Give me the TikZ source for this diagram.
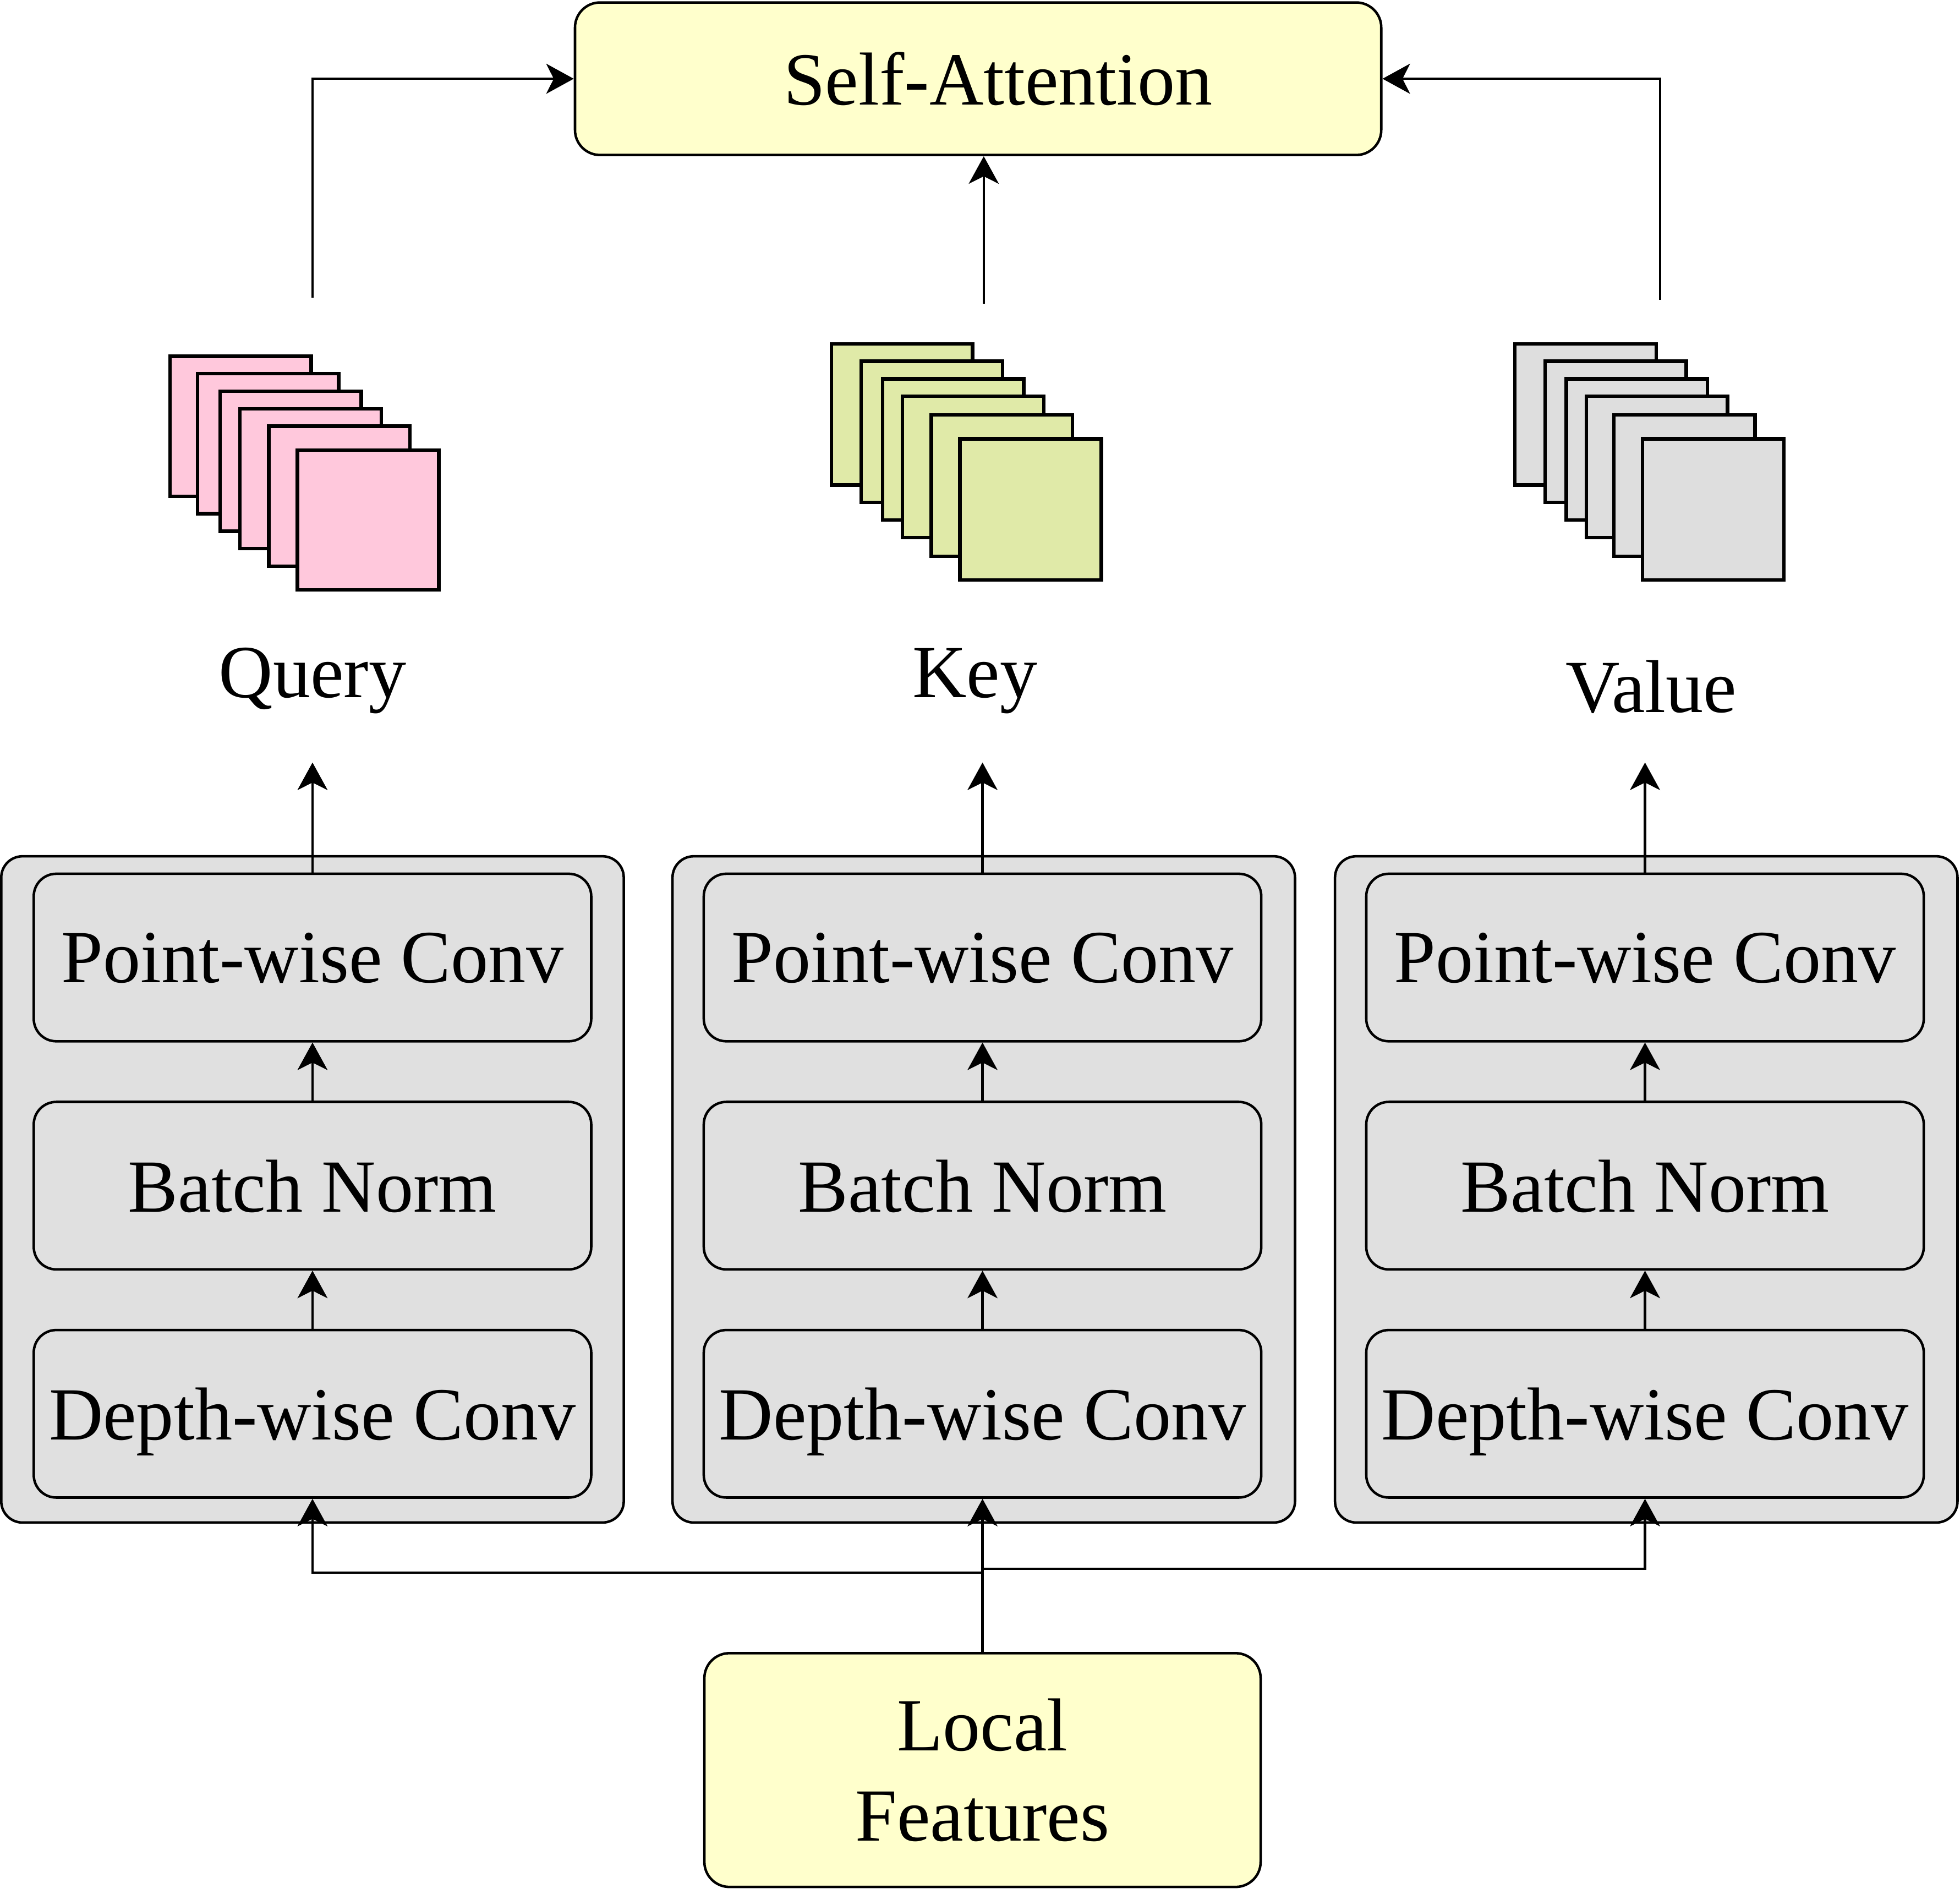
\documentclass[tikz,border=0pt]{standalone}
\usepackage{fontspec}
\setmainfont{Liberation Serif}
\usetikzlibrary{arrows.meta}
\definecolor{yel}{HTML}{FFFFCC}
\definecolor{boxgray}{HTML}{E0E0E0}
\definecolor{qpink}{HTML}{FFC8DC}
\definecolor{kgreen}{HTML}{E0EAA8}
\definecolor{vgray}{HTML}{DEDEDE}
\tikzset{
  txt/.style={font=\fontsize{60}{72}\selectfont},
  yelbox/.style={txt, draw, line width=2pt, fill=yel, rounded corners=20pt, inner sep=0pt, align=center},
  outerbox/.style={draw, line width=2pt, fill=boxgray, rounded corners=17pt, minimum width=498pt, minimum height=533pt, inner sep=0pt},
  innerbox/.style={txt, draw, line width=2pt, fill=boxgray, rounded corners=18pt, minimum width=446pt, minimum height=134pt, inner sep=0pt, text depth=0pt},
  conn/.style={line width=2pt},
  arr/.style={line width=2pt, -{Stealth[length=22pt,width=24pt,inset=6pt]}},
  sheet/.style={draw, line width=2.8pt},
  lbl/.style={txt, anchor=base, inner sep=0pt}
}
\begin{document}
\begin{tikzpicture}[x=1pt,y=-1pt]
\useasboundingbox (0,0) rectangle (1568,1515);

% Self-Attention
\node[yelbox, minimum width=645pt, minimum height=122pt] (sa) at (782.5,63) {\hspace*{32pt}Self-Attention};

% feature-map stacks
\foreach \l/\t in {136/285,158/299,176/313,192/327,215/341,238/360}
  \draw[sheet, fill=qpink] (\l,\t) rectangle ++(113,112);
\foreach \l/\t in {665/275,689/289,706/303,722/317,745/332,768/351}
  \draw[sheet, fill=kgreen] (\l,\t) rectangle ++(113,113);
\foreach \l/\t in {1212/275,1236/289,1253/303,1269/317,1291/332,1314/351}
  \draw[sheet, fill=vgray] (\l,\t) rectangle ++(113,113);

% labels
\node[lbl] (query) at (250,558) {Query};
\node[lbl] (key) at (780,558) {Key};
\node[lbl] (value) at (1321,570) {Value};

% connectors to self-attention
\coordinate (qtop) at (250,238);
\coordinate (ktop) at (787,243);
\coordinate (vtop) at (1328,240);
\draw[arr] (qtop) |- (sa.west);
\draw[arr] (ktop) -- (ktop |- sa.south);
\draw[arr] (vtop) |- (sa.east);

% three processing columns
\foreach \i/\x/\ox in {1/250/250,2/786/787,3/1316/1317}{
  \node[outerbox] (o\i) at (\ox,951.5) {};
  \node[innerbox] (pw\i) at (\x,766) {Point-wise Conv};
  \node[innerbox] (bn\i) at (\x,948.5) {Batch Norm};
  \node[innerbox] (dw\i) at (\x,1131) {Depth-wise Conv};
  \draw[arr] (dw\i.north) -- (bn\i.south);
  \draw[arr] (bn\i.north) -- (pw\i.south);
  \coordinate (out\i) at (\x,610);
  \draw[arr] (pw\i.north) -- (out\i);
}

% Local Features
\node[yelbox, minimum width=445pt, minimum height=187pt] (lf) at (786,1416) {Local\\Features};

\coordinate (jl) at (786,1258);
\coordinate (jr) at (786,1255);
\draw[arr] (lf.north) -- (dw2.south);
\draw[arr] (jl) -| (dw1.south);
\draw[arr] (jr) -| (dw3.south);
\end{tikzpicture}
\end{document}
